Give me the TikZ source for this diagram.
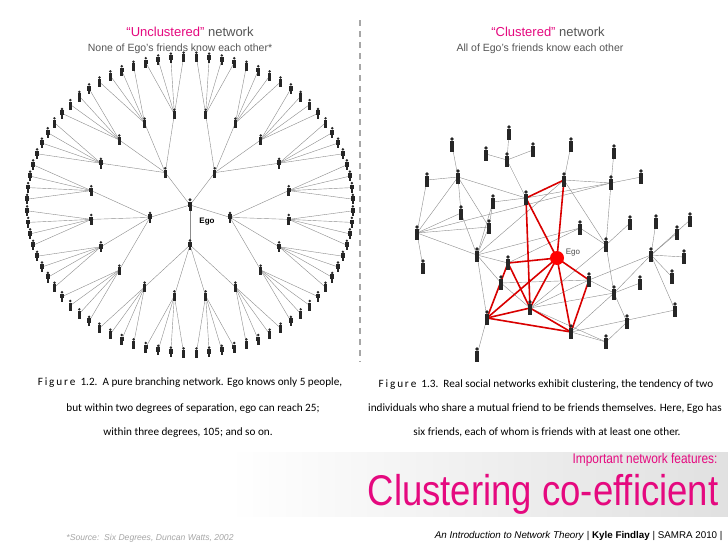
\documentclass[tikz,border=0pt]{standalone}
\usepackage{fontspec}
\setmainfont{Liberation Sans}
\newfontfamily\capfont{Carlito}
\usetikzlibrary{calc}
\definecolor{pink}{HTML}{E5097F}
\definecolor{txtgrey}{HTML}{555555}
\begin{document}
\begin{tikzpicture}[x=1pt,y=-1pt,
  person/.pic={\fill[black!85] (0,-5.2) circle (1.6);
     \fill[black!85] (-2.1,-3.4) rectangle (2.1,2.2);
     \fill[black!85] (-1.5,2.2) rectangle (1.5,6.2);},
  gedge/.style={draw=black!45,line width=0.4pt},
  redge/.style={draw=red!85!black,line width=1.6pt},
  ttl/.style={font=\fontsize{13pt}{15pt}\selectfont},
  subt/.style={font=\fontsize{10.5pt}{12pt}\selectfont,text=txtgrey},
  captxt/.style={font=\capfont\fontsize{11.2pt}{13pt}\selectfont}]
\useasboundingbox (0,0) rectangle (728,546);
\fill[white] (0,0) rectangle (728,546);
% titles
\node[ttl] (t1) at (190,32) {\textcolor{pink}{“Unclustered”} \textcolor{txtgrey}{network}};
\node[subt] (s1) at (180,49) {None of Ego’s friends know each other*};
\node[ttl] (t2) at (548,32) {\textcolor{pink}{“Clustered”} \textcolor{txtgrey}{network}};
\node[subt] (s2) at (540,49) {All of Ego’s friends know each other};
\draw[black!35,line width=1.2pt,dash pattern=on 6pt off 5pt] (360,20) -- (360,362);
% left branching network
\coordinate (ego) at (190,205);
\foreach \i in {0,...,4}{
  \pgfmathsetmacro\ai{90+72*\i}
  \coordinate (n\i) at ([shift={({cos(\ai)*42},{sin(\ai)*40})}]ego);
  \draw[gedge] (ego) -- (n\i);
  \foreach \j in {0,...,3}{
    \pgfmathsetmacro\aj{\ai+(\j-1.5)*18}
    \coordinate (n\i\j) at ([shift={({cos(\aj)*100},{sin(\aj)*92})}]ego);
    \draw[gedge] (n\i) -- (n\i\j);
    \foreach \k in {0,...,3}{
      \pgfmathsetmacro\ak{\aj+(\k-1.5)*4.5}
      \coordinate (n\i\j\k) at ([shift={({cos(\ak)*163},{sin(\ak)*148})}]ego);
      \draw[gedge] (n\i\j) -- (n\i\j\k);
      \pic[scale=0.85] at (n\i\j\k) {person};
    }
    \pic[scale=0.85] at (n\i\j) {person};
  }
  \pic[scale=0.85] at (n\i) {person};
}
\pic at (ego) {person};
\node[font=\bfseries\fontsize{8pt}{9pt}\selectfont] (egol) at (207,222) {Ego};
% right clustered network
\foreach \n/\x/\y in {E/557/258,r1/564/180,r2/526/198,r3/508/263,r4/589/280,r5/530/308,r6/487/318,r7/571/332,
 a/452/145,b/486/154,c/507/160,d/533/150,e/509/133,f/571/145,g/614/152,h/611/183,i/641/177,j/427/180,k/458/177,
 l/493/202,m/461/213,o/489/227,p/417/233,q/580/228,s/630/223,t/606/245,u/656/222,v/677/233,w/651/255,x/684/257,
 y/672/277,z/477/255,aa/501/283,bb/614/293,cc/640/283,dd/627/322,ee/606/342,ff/477/355,gg/423/267,hh/675/310,ii/690/220}
  {\coordinate (\n) at (\x,\y);}
\foreach \u/\v in {a/k,k/j,k/m,k/o,k/r2,k/p,j/p,m/p,o/p,o/l,l/r2,b/c,c/e,c/d,c/r2,r1/f,r1/h,h/g,h/i,h/r2,h/t,h/p,
 r1/t,q/t,q/r3,q/z,t/s,t/bb,t/r5,w/u,w/v,w/x,w/y,w/r4,w/bb,o/z,z/p,z/r3,z/aa,z/r6,z/r1,aa/r6,aa/r4,aa/r5,
 bb/cc,bb/dd,bb/r7,bb/r5,bb/r4,ee/r7,ee/r5,ee/dd,ff/r6,gg/p,r4/r5,l/z,m/z,ii/w,hh/w,r7/hh}
  {\draw[gedge] (\u) -- (\v);}
\foreach \u/\v in {r1/r2,r1/E,r2/E,r2/r5,r3/E,r3/r5,r3/r6,r6/E,r5/E,r6/r5,r5/r7,r7/E,E/r4,r4/r7,r6/r7}
  {\draw[redge] (\u) -- (\v);}
\foreach \n in {r1,r2,r3,r4,r5,r6,r7,a,b,c,d,e,f,g,h,i,j,k,l,m,o,p,q,s,t,u,v,w,x,y,z,aa,bb,cc,dd,ee,ff,gg,hh,ii}
  {\pic[scale=1.15] at (\n) {person};}
\fill[red] (E) circle (7);
\node[font=\fontsize{8pt}{9pt}\selectfont,text=black!70] (egor) at (573,253) {Ego};
% captions
\node[captxt] (c1) at (190,383) {F\,i\,g\,u\,r\,e\ \ 1.2.\ \ A pure branching network. Ego knows only 5 people,};
\node[captxt] (c2) at (193,409) {but within two degrees of separation, ego can reach 25;};
\node[captxt] (c3) at (188,433) {within three degrees, 105; and so on.};
\node[captxt] (c4) at (546,385) {F\,i\,g\,u\,r\,e\ \ 1.3.\ \ Real social networks exhibit clustering, the tendency of two};
\node[captxt] (c5) at (545,409) {individuals who share a mutual friend to be friends themselves. Here, Ego has};
\node[captxt] (c6) at (547,432) {six friends, each of whom is friends with at least one other.};
% banner
\shade[left color=white,right color=black!12] (228,452) rectangle (728,516);
\node[anchor=east,text=pink,font=\fontsize{14pt}{16pt}\selectfont] (imp) at (721,460) {\scalebox{0.85}[1]{Important network features:}};
\node[anchor=east,text=pink,font=\fontsize{43pt}{45pt}\selectfont] (clu) at (722,494) {\scalebox{0.85}[1]{Clustering co-efficient}};
% footer
\node[text=black!35,font=\itshape\fontsize{8.6pt}{10pt}\selectfont] (src) at (150,538) {*Source:\ \ Six Degrees, Duncan Watts, 2002};
\node[anchor=east,font=\fontsize{9.8pt}{11pt}\selectfont] (ft) at (726,536) {\textit{An Introduction to Network Theory} | \textbf{Kyle Findlay} | SAMRA 2010 |};
\end{tikzpicture}
\end{document}
